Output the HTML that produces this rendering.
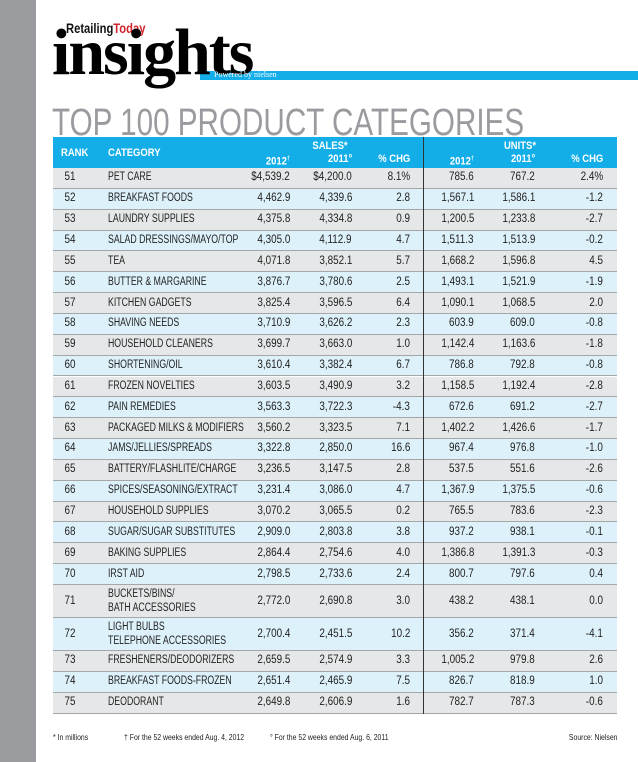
<!DOCTYPE html>
<html><head><meta charset="utf-8"><style>
body{margin:0;width:638px;height:762px;background:#fff;position:relative;overflow:hidden;font-family:"Liberation Sans Narrow","Liberation Sans",sans-serif;}
.a{position:absolute;white-space:nowrap;}
.t{font-size:11.5px;color:#222;line-height:13px;}
.h{font-size:11px;color:#fff;font-weight:bold;line-height:13px;}
.l{transform:scaleX(0.86);transform-origin:left center;}
.k{transform:scaleX(0.76);transform-origin:left center;}
.r{transform:scaleX(0.86);transform-origin:right center;text-align:right;}
.c{transform:scaleX(0.86);transform-origin:center center;text-align:center;}
</style></head><body>
<div class="a" style="left:0;top:0;width:36px;height:762px;background:#9a9b9f"></div>
<div class="a" style="left:66px;top:20px;font-size:14px;font-weight:bold;color:#111;transform:scaleX(0.8);transform-origin:left;font-family:'Liberation Sans',sans-serif">Retailing<span style="color:#d2232a">Today</span></div>
<div class="a" style="left:200px;top:71px;width:438px;height:9px;background:#13aee8"></div>
<div class="a" style="left:52px;top:18px;font-size:66px;font-weight:bold;color:#000;font-family:'Liberation Serif',serif;letter-spacing:-2px;line-height:70px">insights</div>
<div class="a" style="left:214px;top:70px;font-size:8px;color:#fff;font-family:'Liberation Serif',serif">Powered by nielsen</div>
<div class="a" style="left:52px;top:104px;font-size:38px;color:#9a9b9f;line-height:38px;transform:scaleX(0.78);transform-origin:left;font-family:'Liberation Sans',sans-serif">TOP 100 PRODUCT CATEGORIES</div>
<div class="a" style="left:53px;top:137px;width:564px;height:31px;background:#13aee8"></div>
<div id="tbl"></div>
<div class="a" style="left:423px;top:137px;width:1px;height:577px;background:#333"></div>
<div class="a t l" style="left:53px;top:731px;font-size:8px">* In millions</div>
<div class="a t l" style="left:124px;top:731px;font-size:8px">† For the 52 weeks ended Aug. 4, 2012</div>
<div class="a t l" style="left:270px;top:731px;font-size:8px">° For the 52 weeks ended Aug. 6, 2011</div>
<div class="a t r" style="right:21px;top:731px;font-size:8px">Source: Nielsen</div>
<script>
const ranks=[51,52,53,54,55,56,57,58,59,60,61,62,63,64,65,66,67,68,69,70,71,72,73,74,75];
const categories=["PET CARE","BREAKFAST FOODS","LAUNDRY SUPPLIES","SALAD DRESSINGS/MAYO/TOP","TEA","BUTTER & MARGARINE","KITCHEN GADGETS","SHAVING NEEDS","HOUSEHOLD CLEANERS","SHORTENING/OIL","FROZEN NOVELTIES","PAIN REMEDIES","PACKAGED MILKS & MODIFIERS","JAMS/JELLIES/SPREADS","BATTERY/FLASHLITE/CHARGE","SPICES/SEASONING/EXTRACT","HOUSEHOLD SUPPLIES","SUGAR/SUGAR SUBSTITUTES","BAKING SUPPLIES","IRST AID","BUCKETS/BINS/|BATH ACCESSORIES","LIGHT BULBS|TELEPHONE ACCESSORIES","FRESHENERS/DEODORIZERS","BREAKFAST FOODS-FROZEN","DEODORANT"];
const sales2012=["$4,539.2","4,462.9","4,375.8","4,305.0","4,071.8","3,876.7","3,825.4","3,710.9","3,699.7","3,610.4","3,603.5","3,563.3","3,560.2","3,322.8","3,236.5","3,231.4","3,070.2","2,909.0","2,864.4","2,798.5","2,772.0","2,700.4","2,659.5","2,651.4","2,649.8"];
const sales2011=["$4,200.0","4,339.6","4,334.8","4,112.9","3,852.1","3,780.6","3,596.5","3,626.2","3,663.0","3,382.4","3,490.9","3,722.3","3,323.5","2,850.0","3,147.5","3,086.0","3,065.5","2,803.8","2,754.6","2,733.6","2,690.8","2,451.5","2,574.9","2,465.9","2,606.9"];
const salesChg=["8.1%","2.8","0.9","4.7","5.7","2.5","6.4","2.3","1.0","6.7","3.2","-4.3","7.1","16.6","2.8","4.7","0.2","3.8","4.0","2.4","3.0","10.2","3.3","7.5","1.6"];
const units2012=["785.6","1,567.1","1,200.5","1,511.3","1,668.2","1,493.1","1,090.1","603.9","1,142.4","786.8","1,158.5","672.6","1,402.2","967.4","537.5","1,367.9","765.5","937.2","1,386.8","800.7","438.2","356.2","1,005.2","826.7","782.7"];
const units2011=["767.2","1,586.1","1,233.8","1,513.9","1,596.8","1,521.9","1,068.5","609.0","1,163.6","792.8","1,192.4","691.2","1,426.6","976.8","551.6","1,375.5","783.6","938.1","1,391.3","797.6","438.1","371.4","979.8","818.9","787.3"];
const unitsChg=["2.4%","-1.2","-2.7","-0.2","4.5","-1.9","2.0","-0.8","-1.8","-0.8","-2.8","-2.7","-1.7","-1.0","-2.6","-0.6","-2.3","-0.1","-0.3","0.4","0.0","-4.1","2.6","1.0","-0.6"];
const T=document.getElementById('tbl');
function mk(cls,txt,style,name){const d=document.createElement('div');d.className='a '+cls;d.innerHTML=txt;d.style.cssText=style;


T.appendChild(d);return d;}
mk('h l','RANK','left:61px;top:147px','header-rank');
mk('h l','CATEGORY','left:108px;top:147px','header-category');
mk('h c','SALES*','left:300px;width:60px;top:140px','header-sales');
mk('h c','UNITS*','left:490px;width:60px;top:140px','header-units');
const hx=[290,352,410,474,535,603],ht=['2012<sup style="font-size:6px">†</sup>','2011°','% CHG','2012<sup style="font-size:6px">†</sup>','2011°','% CHG'];
hx.forEach((x,i)=>mk('h r',ht[i],'right:'+(638-x)+'px;top:153px','header-col-'+i));
let y=168;
ranks.forEach((rk,i)=>{
 const two=categories[i].includes('|');const h=two?33:20.85;
 const bg=i%2==0?'#e6e7e8':'#ddf1fa';
 mk('','', 'left:53px;top:'+y+'px;width:564px;height:'+h+'px;background:'+bg+';border-bottom:1.5px solid #a5a6a8;box-sizing:border-box','row-'+rk);
 const ty=y+(h-13)/2-0.5;
 mk('t c',rk,'left:55px;width:30px;top:'+ty+'px','rank-'+rk);
 if(two){const p=categories[i].split('|');mk('t k',p[0]+'<br>'+p[1],'left:108px;top:'+(y+3)+'px;line-height:13.5px','category-'+rk);}
 else mk('t k',categories[i],'left:108px;top:'+ty+'px','category-'+rk);
 const vals=[sales2012[i],sales2011[i],salesChg[i],units2012[i],units2011[i],unitsChg[i]];
 vals.forEach((v,j)=>mk('t r',v,'right:'+(638-hx[j])+'px;top:'+ty+'px','cell-'+rk+'-'+j));
 y+=h;
});
</script>
</body></html>
